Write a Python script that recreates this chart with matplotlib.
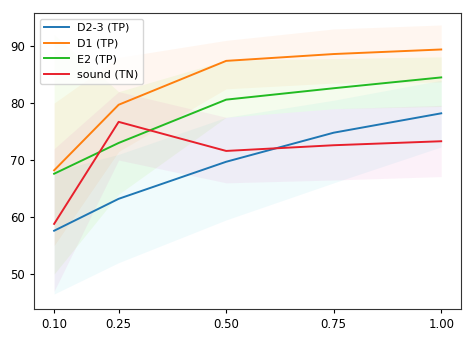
import numpy as np
import matplotlib
matplotlib.use("Agg")
import matplotlib.pyplot as plt

# fraction of training data on x, score on y
fractions = [0.10, 0.25, 0.50, 0.75, 1.00]
tick_labels = ["0.10", "0.25", "0.50", "0.75", "1.00"]

labels = ["D2-3 (TP)", "D1 (TP)", "E2 (TP)", "sound (TN)"]

d23_mean = [57.6, 63.2, 69.7, 74.8, 78.2]
d23_low = [46.5, 52.0, 59.5, 66.0, 72.3]
d23_high = [68.0, 71.0, 77.5, 80.5, 84.0]

d1_mean = [68.2, 79.7, 87.4, 88.6, 89.4]
d1_low = [55.0, 71.5, 82.5, 83.5, 83.7]
d1_high = [80.0, 88.0, 91.0, 93.0, 93.7]

e2_mean = [67.6, 73.0, 80.6, 82.6, 84.5]
e2_low = [50.0, 64.0, 77.5, 79.0, 79.4]
e2_high = [92.0, 82.0, 87.5, 87.8, 88.1]

sound_mean = [58.8, 76.7, 71.6, 72.6, 73.3]
sound_low = [47.0, 70.0, 66.0, 66.5, 67.1]
sound_high = [72.0, 82.0, 77.5, 79.0, 79.6]

series = [
    (d23_mean, d23_low, d23_high, "#1f77b4", "#35c8e0"),
    (d1_mean, d1_low, d1_high, "#ff7f0e", "#ff8a30"),
    (e2_mean, e2_low, e2_high, "#22bb22", "#7ee000"),
    (sound_mean, sound_low, sound_high, "#e8202c", "#e040b0"),
]

fig = plt.figure(figsize=(4.74, 3.42), dpi=100)
ax = fig.add_axes([0.072, 0.097, 0.901, 0.865])

for (mean, low, high, col, band), lab in zip(series, labels):
    ax.fill_between(fractions, low, high, color=band, alpha=0.07, lw=0)
    ax.plot(fractions, mean, color=col, lw=1.4, label=lab)

ax.set_xticks(fractions)
ax.set_xticklabels(tick_labels)
ax.set_yticks([50, 60, 70, 80, 90])
ax.set_xlim(0.0535, 1.0465)
ax.set_ylim(43.9, 95.8)
ax.tick_params(labelsize=8.5, length=3)
for s in ax.spines.values():
    s.set_color("#333333")

ax.legend(loc="upper left", fontsize=8, handlelength=2.2, framealpha=0.8)

fig.savefig("out.png", dpi=100)
